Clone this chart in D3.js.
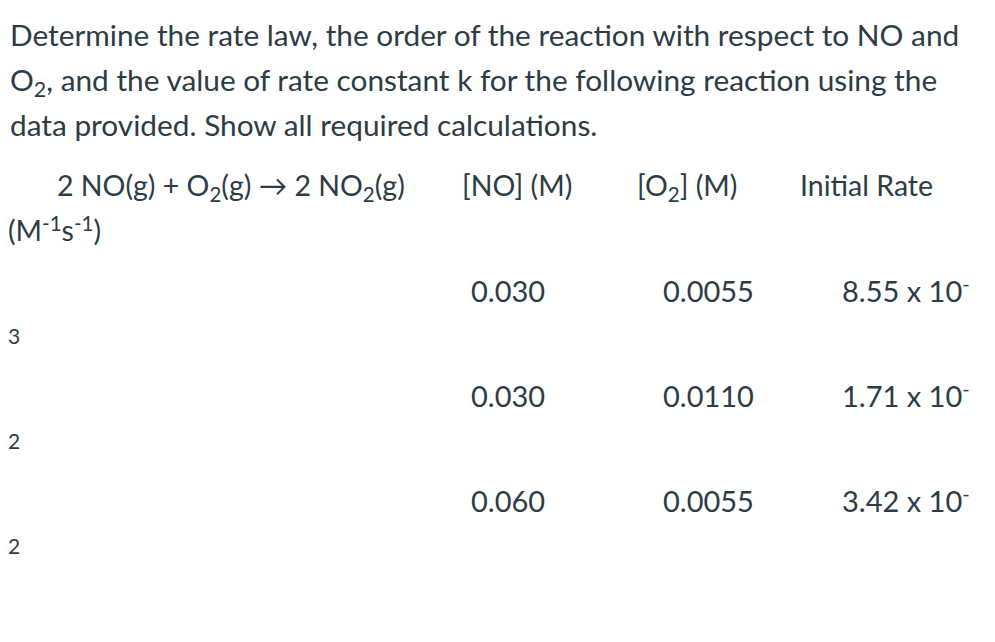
<!DOCTYPE html>
<html><head><meta charset="utf-8">
<script src="https://cdn.jsdelivr.net/npm/d3@7"></script>
<style>body{margin:0;background:#fff}</style>
</head><body>
<svg id="c" width="995" height="642"></svg>
<script>
const questionLines = [
  "Determine the rate law, the order of the reaction with respect to NO and",
  null,
  "data provided. Show all required calculations."
];
const noConc = ["0.030", "0.030", "0.060"];
const o2Conc = ["0.0055", "0.0110", "0.0055"];
const rates = ["8.55 x 10", "1.71 x 10", "3.42 x 10"];
const exponents = ["3", "2", "2"];

const svg = d3.select("#c");
const font = "Lato, 'Open Sans', sans-serif";
const ink = "#2d3b45";

function line(x, y, size, parts) {
  const t = svg.append("text").attr("x", x).attr("y", y)
    .attr("font-family", font).attr("font-size", size).attr("fill", ink);
  parts.forEach(p => {
    const s = t.append("tspan").text(p.t);
    if (p.sub) s.attr("font-size", size * 0.72).attr("dy", 6);
    if (p.sup) s.attr("font-size", size * 0.72).attr("dy", -10);
    if (p.back) s.attr("dy", p.back);
  });
  return t;
}

line(10, 46, 29.8, [{ t: questionLines[0] }]);
line(10, 91, 29.8, [{ t: "O" }, { t: "2", sub: true }, { t: ", and the value of rate constant k for the following reaction using the", back: -6 }]);
line(10, 136, 29.8, [{ t: questionLines[2] }]);

line(57, 196, 28.5, [{ t: "2 NO(g) + O" }, { t: "2", sub: true }, { t: "(g)  \u2192  2 NO", back: -6 }, { t: "2", sub: true }, { t: "(g)", back: -6 }]);
line(462, 196, 28.5, [{ t: "[NO] (M)" }]);
line(637, 196, 28.5, [{ t: "[O" }, { t: "2", sub: true }, { t: "] (M)", back: -6 }]);
line(800, 196, 28.5, [{ t: "Initial Rate" }]);
line(8, 241, 28.5, [{ t: "(M" }, { t: "-1", sup: true }, { t: "s", back: 10 }, { t: "-1", sup: true }, { t: ")", back: 10 }]);

const y = d3.scaleBand().domain(d3.range(rates.length)).range([260, 575]);
const rows = svg.selectAll("g.row").data(rates).join("g")
  .attr("transform", (d, i) => `translate(0,${y(i) + 42})`);
rows.append("text").attr("x", 471).text((d, i) => noConc[i]);
rows.append("text").attr("x", 663).text((d, i) => o2Conc[i]);
rows.append("text").attr("x", 842).each(function (d) {
  const t = d3.select(this);
  t.append("tspan").text(d);
  t.append("tspan").text("-").attr("font-size", 20).attr("dy", -11);
});
rows.selectAll("text").attr("font-family", font).attr("font-size", 29).attr("fill", ink);
rows.append("text").attr("x", 8).attr("y", 42).text((d, i) => exponents[i])
  .attr("font-family", font).attr("font-size", 21).attr("fill", ink);
</script>
</body></html>
